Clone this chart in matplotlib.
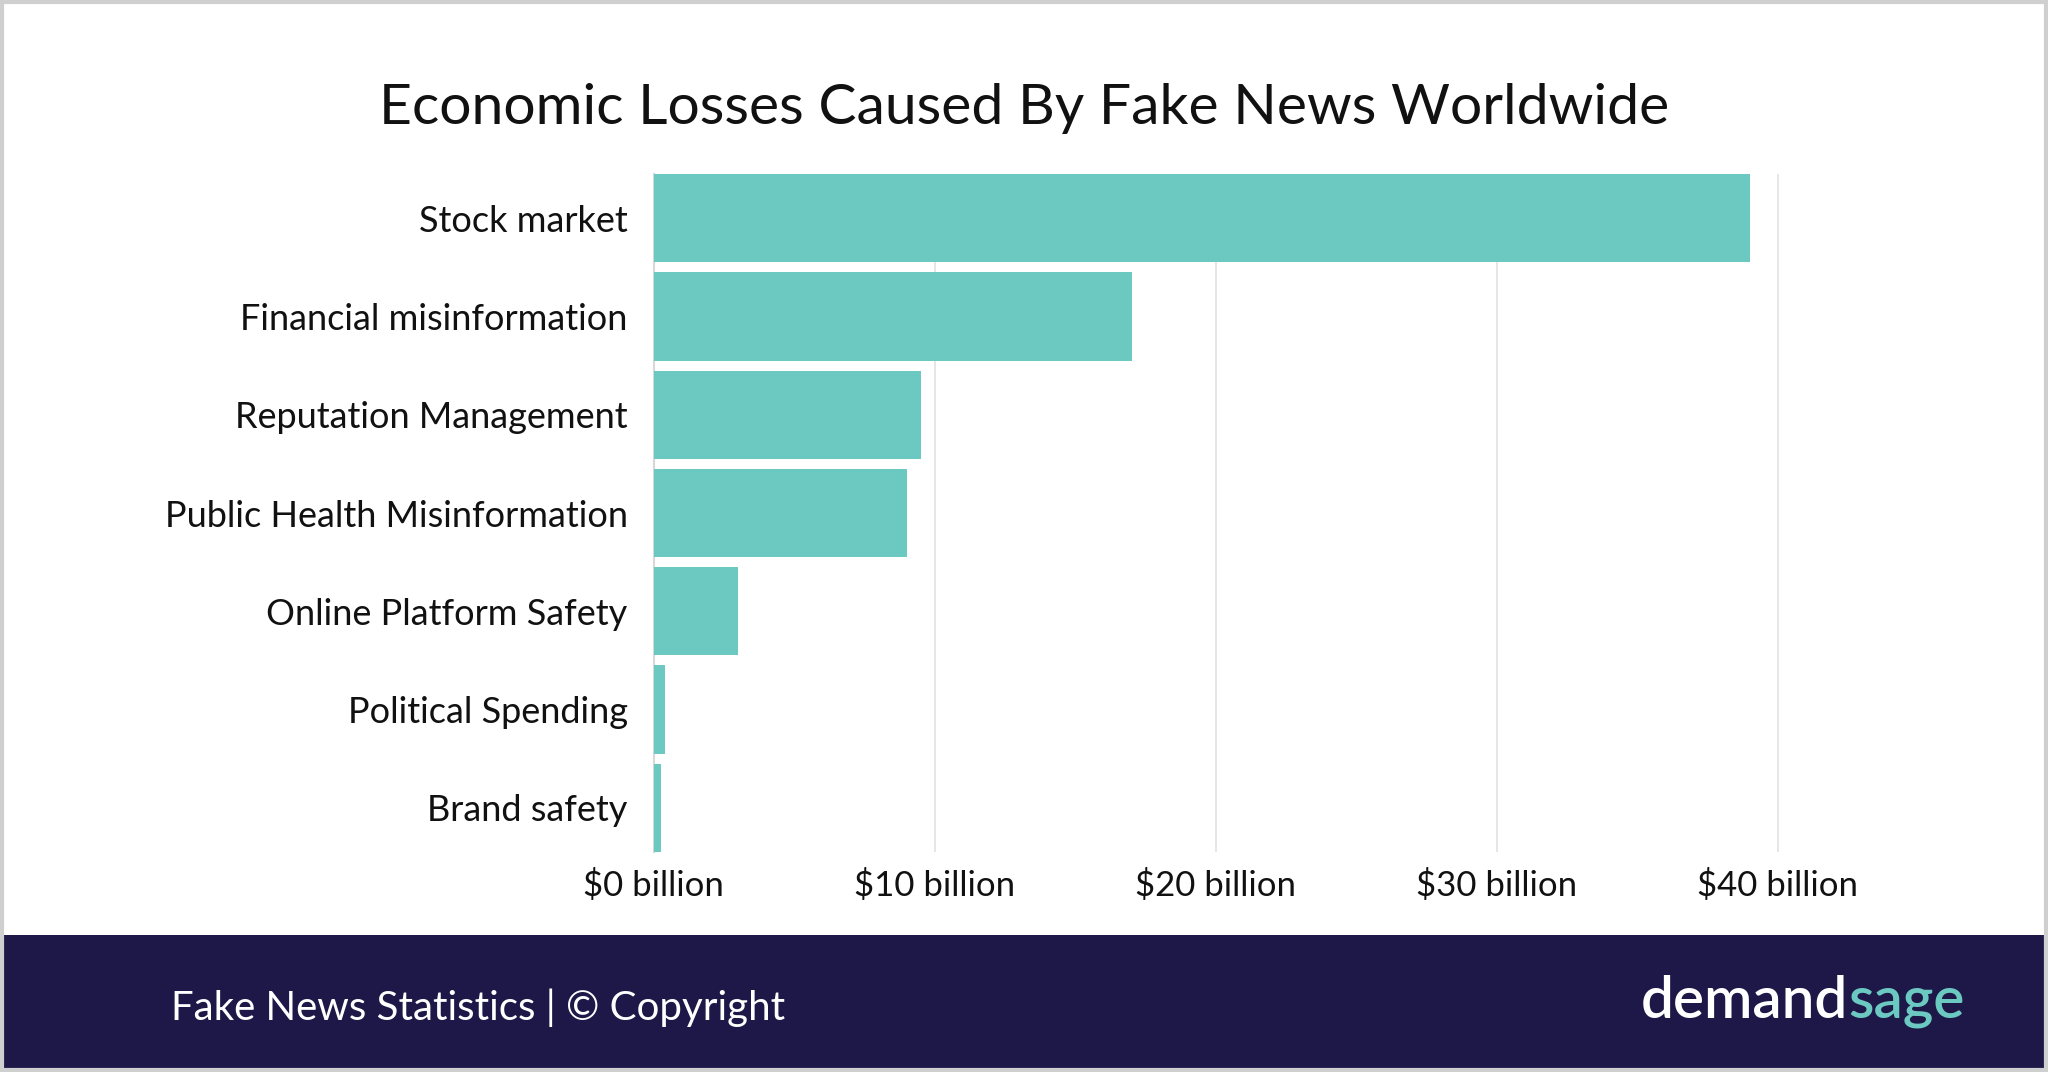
import matplotlib.pyplot as plt
from matplotlib.patches import Rectangle

categories = ["Stock market", "Financial misinformation", "Reputation Management",
              "Public Health Misinformation", "Online Platform Safety",
              "Political Spending", "Brand safety"]
losses = [39, 17, 9.5, 9, 3, 0.4, 0.25]  # $ billion
ticks = [0, 10, 20, 30, 40]
tick_labels = [f"${t} billion" for t in ticks]

TEAL = "#6CC9C2"
NAVY = "#1E1848"

plt.rcParams['font.family'] = ['Lato', 'DejaVu Sans']

fig = plt.figure(figsize=(20.48, 10.72), dpi=100)
ax = fig.add_axes([0.3193, 0.2052, 0.5494, 0.6325])

ax.barh(range(len(categories)), losses, height=0.9, color=TEAL, zorder=3)
ax.set_ylim(len(categories) - 0.55, -0.45)
ax.set_xlim(0, 40.05)

ax.set_yticks(range(len(categories)))
ax.set_yticklabels(categories, fontsize=26, color="#111111")
ax.set_xticks(ticks)
ax.set_xticklabels(tick_labels, fontsize=25, color="#111111")
ax.tick_params(axis='both', length=0)
ax.tick_params(axis='y', pad=19)
ax.tick_params(axis='x', pad=12)

ax.grid(axis='x', color="#E2E2E2", linewidth=1.2, zorder=0)
for s in ["top", "right", "bottom"]:
    ax.spines[s].set_visible(False)
ax.spines["left"].set_color("#D8D8D8")
ax.spines["left"].set_linewidth(1.5)

fig.text(0.5, 0.8843, "Economic Losses Caused By Fake News Worldwide",
         ha='center', va='baseline', fontsize=41, color="#111111")

# footer band
fig.patches.append(Rectangle((0, 0), 1, 0.128, transform=fig.transFigure,
                             facecolor=NAVY, edgecolor='none', zorder=0))
fig.text(0.0835, 0.06, "Fake News Statistics | © Copyright", ha='left', va='center',
         fontsize=29, color="white")
fig.text(0.9025, 0.066, "demand", ha='right', va='center', fontsize=42,
         color="white", fontweight='semibold')
fig.text(0.9025, 0.066, "sage", ha='left', va='center', fontsize=42,
         color=TEAL, fontweight='semibold')

# outer border
fig.patches.append(Rectangle((0.001, 0.002), 0.998, 0.996, transform=fig.transFigure,
                             facecolor='none', edgecolor="#CFCFCF", linewidth=3, zorder=5))

plt.savefig("out.png", dpi=100)
plt.close()
